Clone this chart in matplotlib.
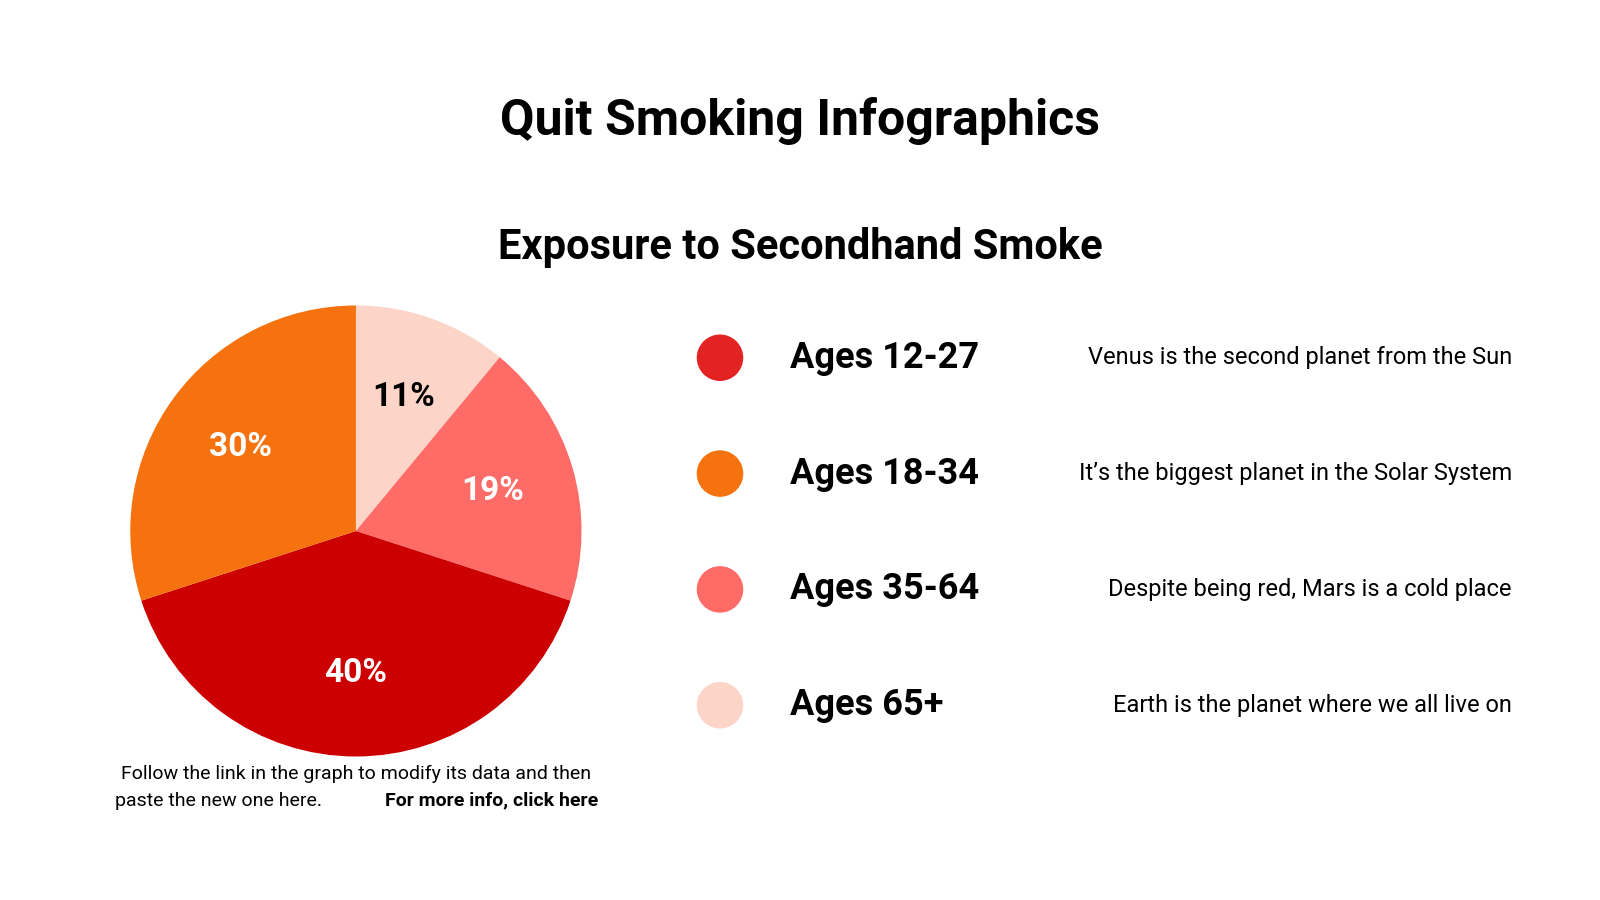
import matplotlib
matplotlib.use("Agg")
import matplotlib.pyplot as plt

labels = ["Ages 12-27", "Ages 18-34", "Ages 35-64", "Ages 65+"]
descs = ["Venus is the second planet from the Sun",
         "It’s the biggest planet in the Solar System",
         "Despite being red, Mars is a cold place",
         "Earth is the planet where we all live on"]
legend_colors = ["#E32222", "#F5720F", "#FF6B66", "#FDD5C8"]
pie_values = [11, 19, 40, 30]
pie_colors = ["#FDD5C8", "#FF6B66", "#CC0000", "#F5720F"]
pie_text_colors = ["black", "white", "white", "white"]

W, H = 1560, 878
fig = plt.figure(figsize=(16, 9), dpi=100)
cond = ["Liberation Sans Narrow", "Roboto", "DejaVu Sans"]
body = ["Roboto", "DejaVu Sans"]

def fx(x): return x / W
def fy(y): return 1 - y / H

fig.text(0.5, fy(118), "Quit Smoking Infographics", family=cond, weight="bold",
         fontsize=36, ha="center", va="center")
fig.text(0.5, fy(241), "Exposure to Secondhand Smoke", family=cond, weight="bold",
         fontsize=30, ha="center", va="center")

cx, cy, r = 347, 518, 220
ax = fig.add_axes([fx(cx - r), fy(cy + r), 2 * r / W, 2 * r / H])
wedges, texts = ax.pie(pie_values, colors=pie_colors, startangle=90, counterclock=False,
                       wedgeprops=dict(linewidth=0))
import numpy as np
ang = 90.0
for w, v, tc in zip(wedges, pie_values, pie_text_colors):
    mid = np.deg2rad(ang - v * 3.6 / 2)
    ang -= v * 3.6
    ax.text(0.63 * np.cos(mid), 0.63 * np.sin(mid), f"{v}%", ha="center", va="center",
            color=tc, fontsize=24, weight="bold", family=cond)
ax.set_aspect("auto")
ax.set_xlim(-1, 1); ax.set_ylim(-1, 1)

fig.text(fx(347), fy(755), "Follow the link in the graph to modify its data and then",
         family=body, fontsize=14, ha="center", va="center")
t1 = "paste the new one here. "
fig.text(fx(347), fy(781), t1 + "For more info, click here", family=body, fontsize=14,
         ha="center", va="center", alpha=0)
fig.text(fx(112), fy(781), t1, family=body, fontsize=14, ha="left", va="center")
fig.text(fx(583), fy(781), "For more info, click here", family=body, fontsize=14,
         weight="bold", ha="right", va="center")

ys = [349, 462, 575, 688]
for lab, d, c, y in zip(labels, descs, legend_colors, ys):
    fig.patches.append(matplotlib.patches.Ellipse((fx(702), fy(y)), 44 / W, 44 / H,
                       transform=fig.transFigure, color=c))
    fig.text(fx(770), fy(y), lab, family=cond, weight="bold", fontsize=26,
             ha="left", va="center")
    fig.text(fx(1474), fy(y), d, family=body, fontsize=17, ha="right", va="center")

fig.savefig("out.png", dpi=100, facecolor="white")
